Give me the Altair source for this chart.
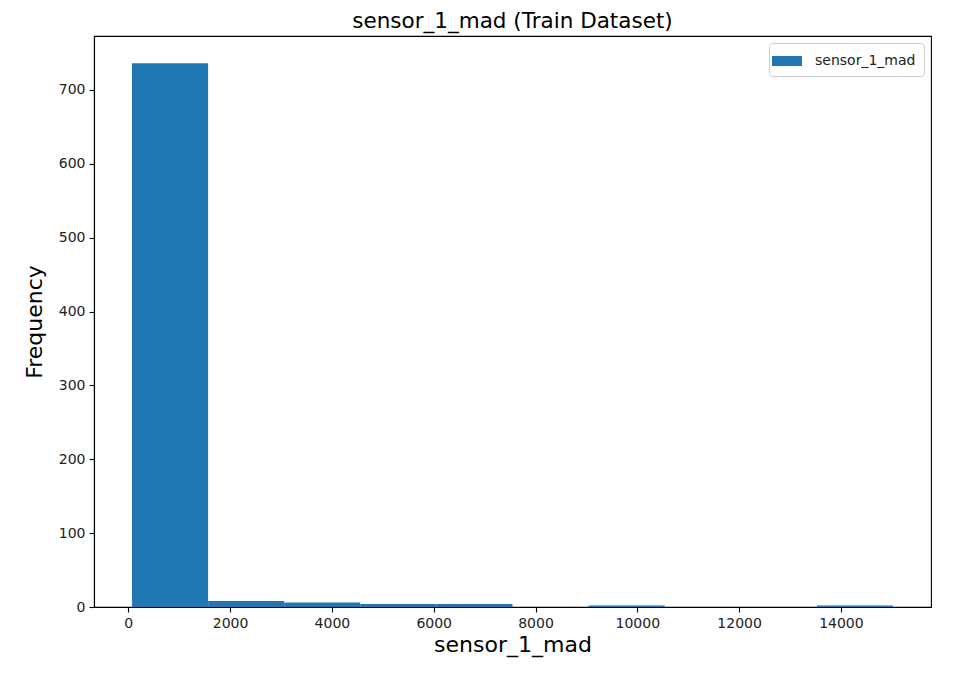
import altair as alt
import pandas as pd

bin_start = [73, 1568, 3063, 4558, 6053, 7548, 9043, 10538, 12033, 13528]
bin_end = [1568, 3063, 4558, 6053, 7548, 9043, 10538, 12033, 13528, 15023]
counts = [736, 8, 6, 4, 4, 0, 2, 0, 0, 2]
series = ["sensor_1_mad"] * len(counts)
x_ticks = [0, 2000, 4000, 6000, 8000, 10000, 12000, 14000]
y_ticks = [0, 100, 200, 300, 400, 500, 600, 700]

df = pd.DataFrame({"start": bin_start, "end": bin_end, "count": counts, "series": series})

FONT = "DejaVu Sans"
rect_path = "M-1.5,-0.5L1.5,-0.5L1.5,0.5L-1.5,0.5Z"

chart = alt.Chart(df).mark_rect(color="#1f77b4", strokeWidth=0).encode(
    x=alt.X("start:Q",
            scale=alt.Scale(domain=[-674, 15770], nice=False, zero=False),
            axis=alt.Axis(values=x_ticks, format="d", title="sensor_1_mad",
                          grid=False, titlePadding=4)),
    x2="end:Q",
    y=alt.Y("count:Q",
            scale=alt.Scale(domain=[0, 773], nice=False),
            axis=alt.Axis(values=y_ticks, format="d", title="Frequency",
                          grid=False, titlePadding=12)),
    y2=alt.datum(0),
    color=alt.Color("series:N",
                    scale=alt.Scale(range=["#1f77b4"]),
                    legend=alt.Legend(title=None, orient="top-right", offset=7,
                                      symbolType=rect_path, symbolSize=400,
                                      symbolStrokeWidth=0, symbolOpacity=1,
                                      labelOffset=18, labelFontSize=14, labelFont=FONT,
                                      labelColor="#222",
                                      padding=8, fillColor="white",
                                      strokeColor="#cccccc", cornerRadius=3)),
).properties(
    width=837,
    height=571,
    title=alt.TitleParams("sensor_1_mad (Train Dataset)", fontSize=21.5, font=FONT,
                          fontWeight="normal", color="#000", offset=4),
    autosize=alt.AutoSizeParams(type="none"),
    padding={"left": 86, "top": 28, "right": 30, "bottom": 56},
).configure_view(
    stroke="#000", strokeWidth=1.1
).configure_axis(
    domainColor="#000", domainWidth=1.1, tickColor="#000", tickSize=5,
    tickWidth=1.1, labelFontSize=14, labelFont=FONT, labelColor="#222",
    labelPadding=4, titleFont=FONT, titleFontSize=22, titleFontWeight="normal",
    titleColor="#000"
)

chart.save("out.html", embed_options={"renderer": "svg", "actions": False})
